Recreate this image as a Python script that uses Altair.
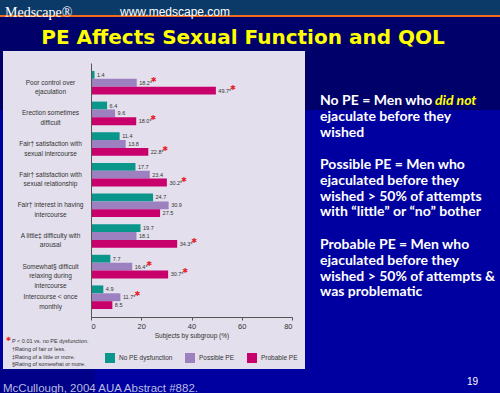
import altair as alt
import pandas as pd

# ---------------- data ----------------
categories = [
    "Poor control over|ejaculation",
    "Erection sometimes|difficult",
    "Fair\u2020 satisfaction with|sexual intercourse",
    "Fair\u2020 satisfaction with|sexual relationship",
    "Fair\u2020 interest in having|intercourse",
    "A little\u2021 difficulty with|arousal",
    "Somewhat\u00a7 difficult|relaxing during|intercourse",
    "Intercourse < once|monthly",
]
series_names = ["No PE dysfunction", "Possible PE", "Probable PE"]
no_pe = [1.4, 6.4, 11.4, 17.7, 24.7, 19.7, 7.7, 4.9]
possible_pe = [18.2, 9.6, 13.8, 23.4, 30.9, 18.1, 16.4, 11.7]
probable_pe = [49.7, 18.0, 22.8, 30.2, 27.5, 34.3, 30.7, 8.5]
no_pe_sig = [False, False, False, False, False, False, False, False]
possible_sig = [True, False, False, False, False, False, True, True]
probable_sig = [True, True, True, True, False, True, True, False]
x_ticks = [0, 10, 20, 30, 40, 50, 60, 70, 80]
bar_colors = ["#0a968a", "#9d80c0", "#c8006c"]

footnotes = "P < 0.01 vs. no PE dysfunction.\n\u2020Rating of fair or less.\n\u2021Rating of a little or more.\n\u00a7Rating of somewhat or more."
para1 = "No PE = Men who\nejaculate before they\nwished"
para2 = "Possible PE = Men who\nejaculated before they\nwished > 50% of attempts\nwith \u201clittle\u201d or \u201cno\u201d bother"
para3 = "Probable PE = Men who\nejaculated   before they\nwished > 50% of attempts &\nwas problematic"

rows = []
for vals, sigs, name in [(no_pe, no_pe_sig, series_names[0]),
                         (possible_pe, possible_sig, series_names[1]),
                         (probable_pe, probable_sig, series_names[2])]:
    for c, v, s in zip(categories, vals, sigs):
        rows.append({"category": c, "series": name, "value": v,
                     "label": f"{v:.1f}" + ("*" if s else ""), "sig": s})
df = pd.DataFrame(rows)
dummy = pd.DataFrame({"k": [0]})

# plot-area origin inside the 500x393 page
OX, OY = 91, 63
def X(a):
    return a - OX
def Y(a):
    return a - OY

SMALL = "Liberation Sans, Arial"

# ---------------- decorations ----------------
def rect(x1, x2, y1, y2, color):
    return alt.Chart(dummy).mark_rect(color=color).encode(
        x=alt.value(X(x1)), x2=alt.value(X(x2)), y=alt.value(Y(y1)), y2=alt.value(Y(y2)))

def text(s, x, y, **kw):
    return alt.Chart(dummy).mark_text(**kw).encode(
        x=alt.value(X(x)), y=alt.value(Y(y)), text=alt.value(s))

bg = [
    rect(0, 500, 0, 15, "#0b3a68"),
    rect(0, 500, 15, 17, "#f26a1b"),
    rect(0, 500, 17, 110, "#00006a"),
    rect(0, 95, 369, 393, "#000088"),
    rect(3, 305, 51, 369, "#e3dfec"),
]

side = dict(font="Lato", fontSize=14, fontWeight="bold", color="white", align="left",
            lineBreak="\n", lineHeight=15.8)
texts = [
    text("Medscape\u00ae", 5, 13, font="Liberation Serif", fontSize=14, color="white", align="left"),
    text("www.medscape.com", 120, 12, font="Liberation Sans", fontSize=12, color="white", align="left"),
    text("PE Affects Sexual Function and QOL", 243, 38, font="DejaVu Sans", fontSize=20,
         fontWeight="bold", color="#ffff00", align="center"),
    text(para1, 320, 101, **side),
    text(para2, 320, 165, **side),
    text(para3, 320, 245, **side),
    text("did not", 435, 101, font="Lato", fontSize=14, fontWeight="bold", fontStyle="italic",
         color="#ffff00", align="left"),
    text("19", 467, 382, font="Liberation Sans", fontSize=10, color="white", align="left"),
    text("McCullough, 2004 AUA Abstract #882.", 3, 388.5, font="Liberation Sans", fontSize=11.5,
         color="#b8bce0", align="left"),
    text(footnotes, 12, 341, font=SMALL, fontSize=5.5, color="#333333", align="left",
         lineBreak="\n", lineHeight=7.8),
    text("\u2731", 8.5, 339, font="DejaVu Sans", fontSize=6, color="#e8242c", align="center",
         baseline="middle"),
]

# ---------------- bars ----------------
y_enc = alt.Y("category:N", sort=categories,
              scale=alt.Scale(paddingInner=0.23, paddingOuter=0.26),
              axis=alt.Axis(title=None, labelExpr="split(datum.label, '|')", labelAlign="center",
                            labelBaseline="middle", labelPadding=41, ticks=False,
                            labelFont=SMALL, labelFontSize=6.5, labelColor="#333333",
                            labelLineHeight=9.5, domainColor="#555555", zindex=1))
yoff = alt.YOffset("series:N", sort=series_names, scale=alt.Scale(paddingInner=0, paddingOuter=0))
x_enc = alt.X("value:Q", scale=alt.Scale(domain=[0, 80], nice=False),
              axis=alt.Axis(title="Subjects by subgroup (%)", values=x_ticks, grid=False,
                            tickSize=3, tickColor="#555555", domainColor="#555555",
                            labelFont=SMALL, labelFontSize=7.5, labelColor="#333333", labelPadding=2,
                            titleFont=SMALL, titleFontSize=6.5, titleFontWeight="normal",
                            titleColor="#333333", titlePadding=3, zindex=1))

bars = alt.Chart(df).mark_bar().encode(
    y=y_enc, yOffset=yoff, x=x_enc,
    color=alt.Color("series:N", sort=series_names, title=None,
                    scale=alt.Scale(domain=series_names, range=bar_colors),
                    legend=alt.Legend(orient="none", legendX=14, legendY=290, direction="horizontal",
                                      symbolType="square", symbolSize=100, symbolStrokeWidth=0,
                                      labelFont=SMALL, labelFontSize=6.5, labelColor="#333333",
                                      columnPadding=12, padding=0)),
)
labels = alt.Chart(df).mark_text(align="left", baseline="middle", dx=2.5, font=SMALL,
                                 fontSize=5.5, color="#333333").encode(
    y=alt.Y("category:N", sort=categories), yOffset=alt.YOffset("series:N", sort=series_names),
    x="value:Q", text="label:N")
stars = alt.Chart(df).transform_filter("datum.sig").mark_text(
    align="center", baseline="middle", dx=17, dy=-3, font="DejaVu Sans", fontSize=7,
    color="#e8242c", text="\u2731").encode(
    y=alt.Y("category:N", sort=categories), yOffset=alt.YOffset("series:N", sort=series_names),
    x="value:Q")

chart = alt.layer(*bg, bars, labels, stars, *texts).properties(
    width=201, height=254,
    autosize=alt.AutoSizeParams(type="none"),
    padding={"left": OX, "top": OY, "right": 500 - OX - 201, "bottom": 393 - OY - 254},
    background="#0000a0",
).configure_view(stroke="transparent")

chart.save("out.html", embed_options={"renderer": "svg", "actions": False})
